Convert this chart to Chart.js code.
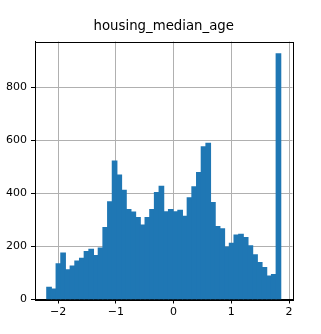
<!DOCTYPE html>
<html>
<head>
<meta charset="utf-8">
<script src="https://cdn.jsdelivr.net/npm/chart.js@4/dist/chart.umd.min.js"></script>
<style>
  html, body { margin: 0; padding: 0; background: #fff; }
  #wrap { width: 321px; height: 334px; position: relative; }
</style>
</head>
<body>
<div id="wrap"><canvas id="c" width="321" height="334"></canvas></div>
<script>
const title = "housing_median_age";
const binStart = -2.196;
const binEnd = 1.856;
const counts = [46, 40, 135, 175, 112, 126, 145, 155, 181, 189, 166, 194, 271, 368, 522, 469, 412, 339, 330, 309, 281, 309, 339, 403, 427, 331, 339, 331, 336, 314, 383, 425, 479, 576, 589, 366, 275, 267, 198, 212, 243, 246, 234, 203, 169, 139, 121, 89, 94, 926];
const xTicks = [-2, -1, 0, 1, 2];
const yTicks = [0, 200, 400, 600, 800];

const binW = (binEnd - binStart) / counts.length;
const points = counts.map((c, i) => ({ x: binStart + binW * (i + 0.5), y: c }));
const span = binEnd - binStart;
const xMin = binStart - 0.05 * span, xMax = binEnd + 0.05 * span;
const yMax = Math.max(...counts) * 1.05;
const fmt = v => (v < 0 ? '\u2212' + Math.abs(v) : String(v));
const FONT = "'DejaVu Sans', sans-serif";

const frame = {
  id: 'frame',
  afterDraw(chart) {
    const { ctx, chartArea: a } = chart;
    ctx.save();
    ctx.strokeStyle = '#000';
    ctx.lineWidth = 1;
    ctx.strokeRect(Math.round(a.left) + 0.5, Math.round(a.top) + 0.5, Math.round(a.right - a.left), Math.round(a.bottom - a.top));
    ctx.fillStyle = '#000';
    ctx.font = "13.3px " + FONT;
    ctx.textAlign = 'center';
    ctx.textBaseline = 'alphabetic';
    ctx.fillText(title, (a.left + a.right) / 2, 29.5);
    ctx.restore();
  }
};

new Chart(document.getElementById('c'), {
  type: 'bar',
  data: {
    datasets: [{
      data: points,
      backgroundColor: '#1f77b4',
      borderWidth: 0,
      inflateAmount: 0.5,
      barPercentage: 1,
      categoryPercentage: 1,
      grouped: false
    }]
  },
  options: {
    responsive: false,
    animation: false,
    devicePixelRatio: 1,
    layout: { padding: { top: 41.5, right: 28.5, left: 0, bottom: 0 } },
    plugins: { legend: { display: false }, tooltip: { enabled: false }, title: { display: false } },
    scales: {
      x: {
        type: 'linear',
        min: xMin, max: xMax,
        offset: false,
        bounds: 'ticks',
        z: 1,
        afterBuildTicks: s => { s.ticks = xTicks.map(v => ({ value: v })); },
        afterFit: s => { s.height = 34.5; },
        ticks: { callback: fmt, color: '#000', font: { family: FONT, size: 11 }, padding: 2, maxRotation: 0, autoSkip: false },
        grid: { color: '#b0b0b0', lineWidth: 1, tickColor: '#000', tickLength: 4, offset: false },
        border: { display: true, color: '#000', width: 1 }
      },
      y: {
        type: 'linear',
        min: 0, max: yMax,
        z: 1,
        afterBuildTicks: s => { s.ticks = yTicks.map(v => ({ value: v })); },
        afterFit: s => { s.width = 35; },
        ticks: { callback: fmt, color: '#000', font: { family: FONT, size: 11 }, padding: 4 },
        grid: { color: '#b0b0b0', lineWidth: 1, tickColor: '#000', tickLength: 4 },
        border: { display: true, color: '#000', width: 1 }
      }
    }
  },
  plugins: [frame]
});
</script>
</body>
</html>
